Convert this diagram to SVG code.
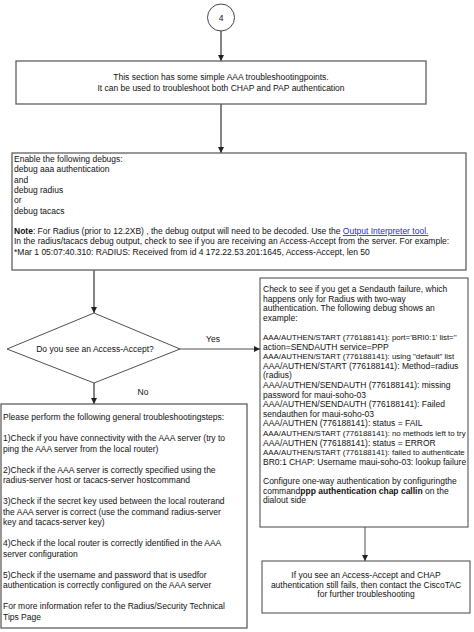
<svg xmlns="http://www.w3.org/2000/svg" width="474" height="632" viewBox="0 0 474 632">
<style>
text{font-family:"Liberation Sans",Arial,sans-serif;font-size:8.5px;fill:#111}
.c{text-anchor:middle}
.s{font-size:7.9px}
.box{fill:#fff;stroke:#606060;stroke-width:1.3}
.thin{fill:#fff;stroke:#444;stroke-width:1}
.ln{fill:none;stroke:#505050;stroke-width:1.4}
.b{font-weight:bold}
.link{fill:#2a2ad0;text-decoration:underline}
</style>
<defs>
<marker id="ah" markerUnits="userSpaceOnUse" markerWidth="8" markerHeight="8" refX="6" refY="3" orient="auto">
<path d="M0,0 L6,3 L0,6 Z" fill="#222"/>
</marker>
</defs>
<rect width="474" height="632" fill="#fff"/>
<g id="connectors">
<line class="ln" x1="221" y1="31" x2="221" y2="61" marker-end="url(#ah)"/>
<line class="ln" x1="221" y1="104" x2="221" y2="153" marker-end="url(#ah)"/>
<line class="ln" x1="94" y1="270" x2="94" y2="313" marker-end="url(#ah)"/>
<line class="ln" x1="180" y1="349" x2="260" y2="349" marker-end="url(#ah)" style="stroke-width:1"/>
<line class="ln" x1="94" y1="383" x2="94" y2="404" marker-end="url(#ah)"/>
<line class="ln" x1="365" y1="527" x2="365" y2="561" marker-end="url(#ah)" style="stroke-width:1"/>
<text x="213" y="342" class="c">Yes</text>
<text x="143" y="395" class="c">No</text>
</g>
<g id="n4">
<circle cx="221" cy="17.5" r="13.5" fill="#fff" stroke="#444" stroke-width="1"/>
<text x="221" y="20.5" class="c">4</text>
</g>
<g id="intro">
<rect class="box" x="16" y="61" width="410" height="43"/>
<text x="221" y="80" class="c">This section has some simple AAA troubleshootingpoints.</text>
<text x="221" y="91" class="c">It can be used to troubleshoot both CHAP and PAP authentication</text>
</g>
<g id="debugs">
<rect class="box" x="12" y="153" width="454" height="117"/>
<text x="14" y="162">Enable the following debugs:</text>
<text x="14" y="172.3">debug aaa authentication</text>
<text x="14" y="182.6">and</text>
<text x="14" y="192.9">debug radius</text>
<text x="14" y="203.2">or</text>
<text x="14" y="213.5">debug tacacs</text>
<text x="14" y="234.1"><tspan class="b">Note</tspan>: For Radius (prior to 12.2XB) , the debug output will need to be decoded. Use the <tspan class="link">Output Interpreter tool.</tspan></text>
<text x="14" y="244.4">In the radius/tacacs debug output, check to see if you are receiving an Access-Accept from the server. For example:</text>
<text x="14" y="254.7">*Mar  1 05:07:40.310: RADIUS: Received from id 4 172.22.53.201:1645, Access-Accept, len 50</text>
</g>
<g id="decision">
<polygon points="94,313 180,349 94,383 7,349" fill="#fff" stroke="#505050" stroke-width="1"/>
<text x="95" y="352" class="c">Do you see an Access-Accept?</text>
</g>
<g id="sendauth">
<rect class="thin" x="260" y="278" width="208" height="249"/>
<text x="263" y="292">Check to see if you get a Sendauth failure, which</text>
<text x="263" y="301.6">happens only for Radius with two-way</text>
<text x="263" y="311.2">authentication.  The following debug shows an</text>
<text x="263" y="320.8">example:</text>
<text x="263" y="340" class="s">AAA/AUTHEN/START (776188141): port='BRI0:1' list=''</text>
<text x="263" y="349.6">action=SENDAUTH service=PPP</text>
<text x="263" y="359.2" class="s">AAA/AUTHEN/START (776188141): using "default" list</text>
<text x="263" y="368.8">AAA/AUTHEN/START (776188141): Method=radius</text>
<text x="263" y="378.4">(radius)</text>
<text x="263" y="388">AAA/AUTHEN/SENDAUTH (776188141): missing</text>
<text x="263" y="397.6">password for maui-soho-03</text>
<text x="263" y="407.2">AAA/AUTHEN/SENDAUTH (776188141): Failed</text>
<text x="263" y="416.8">sendauthen for maui-soho-03</text>
<text x="263" y="426.4">AAA/AUTHEN (776188141): status = FAIL</text>
<text x="263" y="436" class="s">AAA/AUTHEN/START (776188141): no methods left to try</text>
<text x="263" y="445.6">AAA/AUTHEN (776188141): status = ERROR</text>
<text x="263" y="455.2" class="s">AAA/AUTHEN/START (776188141): failed to authenticate</text>
<text x="263" y="464.8"> BR0:1 CHAP: Username maui-soho-03: lookup failure</text>
<text x="263" y="484">Configure one-way authentication by configuringthe</text>
<text x="263" y="493.6">command<tspan class="b">ppp authentication chap callin</tspan>  on the</text>
<text x="263" y="503.2">dialout side</text>
</g>
<g id="steps">
<rect class="box" x="1" y="404" width="246" height="224"/>
<text x="3" y="420">Please perform the following general troubleshootingsteps:</text>
<text x="3" y="441">1)Check if you  have connectivity with the AAA server (try to</text>
<text x="3" y="451.5">ping the AAA server from the local router)</text>
<text x="3" y="472.5">2)Check if the AAA server is correctly specified using the</text>
<text x="3" y="483">radius-server host or tacacs-server hostcommand</text>
<text x="3" y="504">3)Check if the secret key used  between the local routerand</text>
<text x="3" y="514.5">the AAA server is correct (use the command radius-server</text>
<text x="3" y="525">key and tacacs-server key)</text>
<text x="3" y="546">4)Check if the local router is correctly identified in the AAA</text>
<text x="3" y="556.5">server configuration</text>
<text x="3" y="577.5">5)Check if the username and password that is usedfor</text>
<text x="3" y="588">authentication is correctly configured on the AAA server</text>
<text x="3" y="609">For more information refer to the Radius/Security Technical</text>
<text x="3" y="619.5">Tips Page</text>
</g>
<g id="tac">
<rect class="thin" x="262" y="561" width="208" height="52"/>
<text x="366" y="578" class="c">If you see  an Access-Accept and CHAP</text>
<text x="366" y="587.5" class="c">authentication still fails, then contact the CiscoTAC</text>
<text x="366" y="597" class="c">for further troubleshooting</text>
</g>
</svg>
